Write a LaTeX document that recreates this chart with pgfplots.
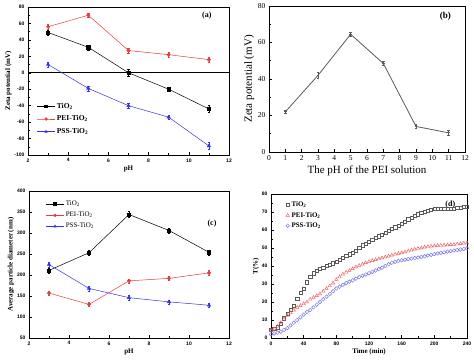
\documentclass[border=0pt]{standalone}
\usepackage{fontspec}
\setmainfont{Liberation Serif}
\newfontfamily\arial{Liberation Sans}
\usepackage{pgfplots}
\pgfplotsset{compat=1.18}
\definecolor{myred}{RGB}{230,60,60}
\definecolor{myblue}{RGB}{50,50,230}
\definecolor{dgray}{RGB}{90,90,90}
\definecolor{lred}{RGB}{235,90,90}
\definecolor{lblue}{RGB}{110,110,230}
\pgfplotsset{
  common/.style={scale only axis, anchor=south west,
    axis line style={line width=0.6pt},
    tick align=inside, xtick pos=bottom, ytick pos=left,
    major tick length=2.5pt, minor tick length=1.5pt,
    tick style={line width=0.5pt, black},
    /pgf/number format/assume math mode=true,
    legend cell align=left,
    every axis plot/.append style={line width=0.5pt},
  },
  smallticks/.style={ticklabel style={font=\arial\bfseries\fontsize{5}{6}\selectfont},
    label style={font=\bfseries\fontsize{7}{8}\selectfont}},
  eb/.style={error bars/.cd, y dir=both, y explicit, error bar style={line width=0.5pt}, error mark options={rotate=90, mark size=1.2pt}},
}
\begin{document}
\begin{tikzpicture}
\path[use as bounding box] (0pt,0pt) rectangle (474pt,363pt);
% ---------------- (a)
\begin{axis}[common, smallticks, at={(28pt,208pt)}, width=201pt, height=148pt,
  xmin=2, xmax=12, ymin=-100, ymax=80,
  xtick={2,4,...,12}, ytick={-100,-80,...,80},
  minor x tick num=1, minor y tick num=1,
  xlabel={pH}, ylabel={Zeta potential (mV)},
  ylabel style={yshift=-4pt}, xlabel style={yshift=3pt},
  legend style={at={(0.03,0.38)}, anchor=north west, draw=none, fill=none,
    font=\bfseries\fontsize{7.5}{9}\selectfont, row sep=2pt},
  legend image post style={mark size=1.4pt}]
\addplot[black, line width=0.6pt, forget plot] coordinates {(2,0) (12,0)};
\addplot[black, mark=square*, mark size=1.6pt, eb] coordinates {
 (3,49) +- (0,3) (5,31) +- (0,3) (7,0) +- (0,4) (9,-20) +- (0,3) (11,-44) +- (0,4)};
\addlegendentry{TiO\textsubscript{2}}
\addplot[myred, mark=*, mark size=1.7pt, eb] coordinates {
 (3,56) +- (0,3) (5,70) +- (0,3) (7,27) +- (0,3) (9,22) +- (0,3) (11,16) +- (0,3)};
\addlegendentry{PEI-TiO\textsubscript{2}}
\addplot[myblue, mark=triangle*, mark size=1.9pt, eb] coordinates {
 (3,10) +- (0,3) (5,-19) +- (0,3) (7,-40) +- (0,3) (9,-54) +- (0,3) (11,-89) +- (0,4)};
\addlegendentry{PSS-TiO\textsubscript{2}}
\node[font=\bfseries\fontsize{8}{9}\selectfont] at (axis description cs:0.89,0.94) {(a)};
\end{axis}
% ---------------- (b)
\begin{axis}[common, at={(269pt,211pt)}, width=196pt, height=146pt,
  xmin=0, xmax=12, ymin=0, ymax=80,
  xtick={0,1,...,12}, ytick={0,20,...,80}, minor y tick num=1,
  ticklabel style={font=\fontsize{7.5}{9}\selectfont},
  label style={font=\fontsize{11}{13}\selectfont},
  xlabel={The pH of the PEI solution}, ylabel={Zeta potential (mV)},
  ylabel style={yshift=-3pt}, xlabel style={yshift=2pt}]
\addplot[dgray, line width=0.8pt, mark=-, mark size=1.2pt, eb] coordinates {
 (1,22) +- (0,1) (3,42) +- (0,1.5) (5,64.5) +- (0,1) (7,48.5) +- (0,1) (9,14) +- (0,1.2) (11,10.5) +- (0,1.2)};
\node[font=\bfseries\fontsize{9}{10}\selectfont] at (axis description cs:0.90,0.93) {(b)};
\end{axis}
% ---------------- (c)
\begin{axis}[common, smallticks, at={(29pt,25pt)}, width=200pt, height=147pt,
  xmin=2, xmax=12, ymin=50, ymax=400,
  xtick={2,4,...,12}, ytick={50,100,...,400},
  minor x tick num=1,
  xlabel={pH}, ylabel={Average particle diameter (nm)},
  ylabel style={yshift=-4pt}, xlabel style={yshift=3pt},
  legend style={at={(0.07,0.96)}, anchor=north west, draw=none, fill=none,
    font=\fontsize{7}{8}\selectfont, row sep=1pt},
  legend image post style={mark size=1.4pt}]
\addplot[black, mark=square*, mark size=1.6pt, eb] coordinates {
 (3,211) +- (0,6) (5,253) +- (0,6) (7,344) +- (0,7) (9,306) +- (0,6) (11,254) +- (0,6)};
\addlegendentry{TiO\textsubscript{2}}
\addplot[myred, mark=*, mark size=1.7pt, eb] coordinates {
 (3,157) +- (0,5) (5,130) +- (0,5) (7,186) +- (0,5) (9,192) +- (0,5) (11,205) +- (0,6)};
\addlegendentry{PEI-TiO\textsubscript{2}}
\addplot[myblue, mark=triangle*, mark size=1.9pt, eb] coordinates {
 (3,225) +- (0,6) (5,168) +- (0,6) (7,146) +- (0,5) (9,136) +- (0,5) (11,128) +- (0,5)};
\addlegendentry{PSS-TiO\textsubscript{2}}
\node[font=\bfseries\fontsize{8}{9}\selectfont] at (axis description cs:0.915,0.78) {(c)};
\end{axis}
% ---------------- (d)
\begin{axis}[common, smallticks, at={(271pt,25pt)}, width=196pt, height=144pt,
  xmin=0, xmax=240, ymin=0, ymax=80,
  xtick={0,40,...,240}, ytick={0,10,...,80},
  minor x tick num=1, minor y tick num=1,
  xlabel={Time (min)}, ylabel={T(\%)},
  ylabel style={yshift=-4pt}, xlabel style={yshift=3pt},
  legend style={at={(0.06,0.975)}, anchor=north west, draw=none, fill=none,
    font=\bfseries\fontsize{7}{8}\selectfont, row sep=0pt}]
\addplot[only marks, dgray, mark=square, mark size=1.6pt, mark options={line width=0.45pt}] coordinates {
 (0,4.5) (4,5) (8,6) (12,8) (16,11) (20,13.5) (24,15.5) (28,18) (32,22) (36,25)
 (40,27.5) (44,31) (48,34) (52,36) (56,37.5) (60,38.5) (64,39) (68,40) (72,40.8) (76,41.5)
 (80,42.3) (84,43.5) (88,44.5) (92,45.5) (96,46.5) (100,47.5) (104,48.5) (108,50) (112,51.5) (116,52.5)
 (120,53.5) (124,54.5) (128,55.5) (132,56.5) (136,57.5) (140,58.5) (144,59.5) (148,60.5) (152,61.5) (156,62.5)
 (160,63.5) (164,64.5) (168,66) (172,67) (176,68) (180,68.8) (184,69.5) (188,70.2) (192,70.8) (196,71.3)
 (200,71.6) (204,71.6) (208,71.7) (212,71.7) (216,71.8) (220,71.8) (224,71.9) (228,72.2) (232,72.5) (236,72.8) (240,73)};
\addlegendentry{TiO\textsubscript{2}}
\addplot[only marks, lred, mark=triangle, mark size=1.9pt, mark options={line width=0.45pt}] coordinates {
 (0,4) (4,5) (8,6.5) (12,8.5) (16,10.5) (20,12.5) (24,14) (28,15.5) (32,17) (36,18)
 (40,19) (44,20) (48,21.5) (52,22.5) (56,23.5) (60,24.5) (64,26) (68,27.5) (72,29) (76,30.5)
 (80,32.5) (84,34) (88,35.5) (92,36.5) (96,37.5) (100,38.5) (104,39.5) (108,40.3) (112,41) (116,41.8)
 (120,42.5) (124,43) (128,43.5) (132,44) (136,44.5) (140,45) (144,45.5) (148,46) (152,46.5) (156,47)
 (160,47.3) (164,47.8) (168,48.3) (172,48.8) (176,49.3) (180,49.7) (184,50) (188,50.5) (192,50.8) (196,51)
 (200,51.2) (204,51.4) (208,51.5) (212,51.6) (216,51.7) (220,51.8) (224,52) (228,52.2) (232,52.4) (236,52.6) (240,52.8)};
\addlegendentry{PEI-TiO\textsubscript{2}}
\addplot[only marks, lblue, mark=o, mark size=1.8pt, mark options={line width=0.45pt}] coordinates {
 (0,2) (4,2.5) (8,3) (12,3.5) (16,4.5) (20,5.5) (24,7) (28,8.5) (32,10) (36,11.5)
 (40,13) (44,14.5) (48,15.5) (52,17) (56,18.5) (60,20) (64,21.5) (68,23) (72,24.5) (76,26)
 (80,27.5) (84,28.5) (88,29.5) (92,30.5) (96,31.3) (100,32) (104,33) (108,33.8) (112,34.6) (116,35.3)
 (120,36) (124,36.7) (128,37.5) (132,38.3) (136,39) (140,40) (144,41) (148,41.8) (152,42.3) (156,42.8)
 (160,43.2) (164,43.5) (168,43.8) (172,44.1) (176,44.4) (180,44.7) (184,45) (188,45.4) (192,45.8) (196,46.2)
 (200,46.6) (204,47) (208,47.3) (212,47.6) (216,48) (220,48.3) (224,48.6) (228,48.9) (232,49.2) (236,49.5) (240,49.8)};
\addlegendentry{PSS-TiO\textsubscript{2}}
\node[font=\bfseries\fontsize{8}{9}\selectfont] at (axis description cs:0.915,0.93) {(d)};
\end{axis}
\end{tikzpicture}
\end{document}
